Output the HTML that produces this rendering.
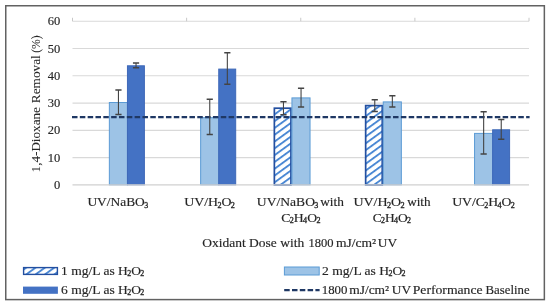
<!DOCTYPE html>
<html><head><meta charset="utf-8"><style>
html,body{margin:0;padding:0;background:#fff;width:550px;height:306px;overflow:hidden}
svg text{font-family:'Liberation Serif',serif;font-size:12.5px;fill:#262626;stroke:#262626;stroke-width:0.15px}
</style></head><body>
<svg width="550" height="306" viewBox="0 0 550 306" style="display:block;filter:blur(0.35px)">
<defs>
<pattern id="hatch" patternUnits="userSpaceOnUse" width="5.5" height="10" patternTransform="rotate(54)">
<rect width="5.5" height="10" fill="#fff"/><rect x="0" y="0" width="1.9" height="10" fill="#4A88D4"/>
</pattern>
</defs>
<rect width="550" height="306" fill="#fff"/>
<line x1="72.5" y1="157.54" x2="529.0" y2="157.54" stroke="#D9D9D9" stroke-width="1.2"/>
<line x1="72.5" y1="130.28" x2="529.0" y2="130.28" stroke="#D9D9D9" stroke-width="1.2"/>
<line x1="72.5" y1="103.03" x2="529.0" y2="103.03" stroke="#D9D9D9" stroke-width="1.2"/>
<line x1="72.5" y1="75.77" x2="529.0" y2="75.77" stroke="#D9D9D9" stroke-width="1.2"/>
<line x1="72.5" y1="48.51" x2="529.0" y2="48.51" stroke="#D9D9D9" stroke-width="1.2"/>
<line x1="72.5" y1="21.25" x2="529.0" y2="21.25" stroke="#D9D9D9" stroke-width="1.2"/>
<line x1="72.50" y1="17.75" x2="72.50" y2="21.25" stroke="#C8C8C8" stroke-width="1"/>
<line x1="186.62" y1="17.75" x2="186.62" y2="21.25" stroke="#C8C8C8" stroke-width="1"/>
<line x1="300.75" y1="17.75" x2="300.75" y2="21.25" stroke="#C8C8C8" stroke-width="1"/>
<line x1="414.88" y1="17.75" x2="414.88" y2="21.25" stroke="#C8C8C8" stroke-width="1"/>
<line x1="529.00" y1="17.75" x2="529.00" y2="21.25" stroke="#C8C8C8" stroke-width="1"/>
<rect x="109.35" y="102.50" width="18.09" height="82.30" fill="#9DC3E6" stroke="#5B9BD5" stroke-width="1"/>
<rect x="127.45" y="65.80" width="16.94" height="119.00" fill="#4472C4" stroke="#3E68B8" stroke-width="1"/>
<rect x="200.65" y="117.70" width="18.09" height="67.10" fill="#9DC3E6" stroke="#5B9BD5" stroke-width="1"/>
<rect x="218.75" y="69.10" width="16.94" height="115.70" fill="#4472C4" stroke="#3E68B8" stroke-width="1"/>
<rect x="274.36" y="108.20" width="16.59" height="76.60" fill="url(#hatch)" stroke="#234FA0" stroke-width="1.7"/>
<rect x="291.95" y="97.90" width="18.09" height="86.90" fill="#9DC3E6" stroke="#5B9BD5" stroke-width="1"/>
<rect x="365.66" y="105.60" width="16.59" height="79.20" fill="url(#hatch)" stroke="#234FA0" stroke-width="1.7"/>
<rect x="383.25" y="101.90" width="18.09" height="82.90" fill="#9DC3E6" stroke="#5B9BD5" stroke-width="1"/>
<rect x="474.55" y="133.40" width="18.09" height="51.40" fill="#9DC3E6" stroke="#5B9BD5" stroke-width="1"/>
<rect x="492.65" y="129.80" width="16.94" height="55.00" fill="#4472C4" stroke="#3E68B8" stroke-width="1"/>
<line x1="72.5" y1="184.8" x2="529.0" y2="184.8" stroke="#D0D0D0" stroke-width="1.3"/>
<line x1="72.0" y1="117.1" x2="529.6" y2="117.1" stroke="#1F3864" stroke-width="2.2" stroke-dasharray="5.5 2.33"/>
<path d="M118.45 90.00V114.50" stroke="#444" stroke-width="1.1" fill="none"/>
<path d="M115.35 90.00H121.55M115.35 114.50H121.55" stroke="#444" stroke-width="1.5" fill="none"/>
<path d="M136.04 62.90V67.70" stroke="#444" stroke-width="1.1" fill="none"/>
<path d="M132.94 62.90H139.14M132.94 67.70H139.14" stroke="#444" stroke-width="1.5" fill="none"/>
<path d="M209.75 99.20V134.40" stroke="#444" stroke-width="1.1" fill="none"/>
<path d="M206.65 99.20H212.85M206.65 134.40H212.85" stroke="#444" stroke-width="1.5" fill="none"/>
<path d="M227.34 52.80V84.30" stroke="#444" stroke-width="1.1" fill="none"/>
<path d="M224.24 52.80H230.44M224.24 84.30H230.44" stroke="#444" stroke-width="1.5" fill="none"/>
<path d="M283.46 101.80V114.70" stroke="#444" stroke-width="1.1" fill="none"/>
<path d="M280.36 101.80H286.56M280.36 114.70H286.56" stroke="#444" stroke-width="1.5" fill="none"/>
<path d="M301.05 88.20V106.90" stroke="#444" stroke-width="1.1" fill="none"/>
<path d="M297.95 88.20H304.15M297.95 106.90H304.15" stroke="#444" stroke-width="1.5" fill="none"/>
<path d="M374.76 99.70V111.60" stroke="#444" stroke-width="1.1" fill="none"/>
<path d="M371.66 99.70H377.86M371.66 111.60H377.86" stroke="#444" stroke-width="1.5" fill="none"/>
<path d="M392.35 95.70V107.00" stroke="#444" stroke-width="1.1" fill="none"/>
<path d="M389.25 95.70H395.45M389.25 107.00H395.45" stroke="#444" stroke-width="1.5" fill="none"/>
<path d="M483.65 111.70V153.90" stroke="#444" stroke-width="1.1" fill="none"/>
<path d="M480.55 111.70H486.75M480.55 153.90H486.75" stroke="#444" stroke-width="1.5" fill="none"/>
<path d="M501.24 119.40V139.20" stroke="#444" stroke-width="1.1" fill="none"/>
<path d="M498.14 119.40H504.34M498.14 139.20H504.34" stroke="#444" stroke-width="1.5" fill="none"/>
<text x="60.3" y="188.90" text-anchor="end">0</text>
<text x="60.3" y="161.64" text-anchor="end">10</text>
<text x="60.3" y="134.38" text-anchor="end">20</text>
<text x="60.3" y="107.12" text-anchor="end">30</text>
<text x="60.3" y="79.87" text-anchor="end">40</text>
<text x="60.3" y="52.61" text-anchor="end">50</text>
<text x="60.3" y="25.35" text-anchor="end">60</text>
<text x="87.40" y="206.30" textLength="60.73" lengthAdjust="spacingAndGlyphs">UV/NaBO<tspan font-size="7.4" dy="1.3" dx="-0.6" style="stroke-width:0.3px">3</tspan></text>
<text x="184.23" y="206.30" textLength="50.71" lengthAdjust="spacingAndGlyphs">UV/H<tspan font-size="7.4" dy="1.3" dx="-0.6" style="stroke-width:0.3px">2</tspan><tspan dy="-1.3">O</tspan><tspan font-size="7.4" dy="1.3" dx="-0.6" style="stroke-width:0.3px">2</tspan></text>
<text x="256.82" y="206.30" textLength="61.51" lengthAdjust="spacingAndGlyphs">UV/NaBO<tspan font-size="7.4" dy="1.3" dx="-0.6" style="stroke-width:0.3px">3</tspan></text>
<text x="320.20" y="206.30" textLength="23.72" lengthAdjust="spacingAndGlyphs">with</text>
<text x="281.34" y="222.00" textLength="39.12" lengthAdjust="spacingAndGlyphs">C<tspan font-size="7.4" dy="1.3" dx="-0.6" style="stroke-width:0.3px">2</tspan><tspan dy="-1.3">H</tspan><tspan font-size="7.4" dy="1.3" dx="-0.6" style="stroke-width:0.3px">4</tspan><tspan dy="-1.3">O</tspan><tspan font-size="7.4" dy="1.3" dx="-0.6" style="stroke-width:0.3px">2</tspan></text>
<text x="353.43" y="206.30" textLength="51.24" lengthAdjust="spacingAndGlyphs">UV/H<tspan font-size="7.4" dy="1.3" dx="-0.6" style="stroke-width:0.3px">2</tspan><tspan dy="-1.3">O</tspan><tspan font-size="7.4" dy="1.3" dx="-0.6" style="stroke-width:0.3px">2</tspan></text>
<text x="407.24" y="206.30" textLength="23.36" lengthAdjust="spacingAndGlyphs">with</text>
<text x="372.67" y="222.00" textLength="38.41" lengthAdjust="spacingAndGlyphs">C<tspan font-size="7.4" dy="1.3" dx="-0.6" style="stroke-width:0.3px">2</tspan><tspan dy="-1.3">H</tspan><tspan font-size="7.4" dy="1.3" dx="-0.6" style="stroke-width:0.3px">4</tspan><tspan dy="-1.3">O</tspan><tspan font-size="7.4" dy="1.3" dx="-0.6" style="stroke-width:0.3px">2</tspan></text>
<text x="452.16" y="206.30" textLength="62.60" lengthAdjust="spacingAndGlyphs">UV/C<tspan font-size="7.4" dy="1.3" dx="-0.6" style="stroke-width:0.3px">2</tspan><tspan dy="-1.3">H</tspan><tspan font-size="7.4" dy="1.3" dx="-0.6" style="stroke-width:0.3px">4</tspan><tspan dy="-1.3">O</tspan><tspan font-size="7.4" dy="1.3" dx="-0.6" style="stroke-width:0.3px">2</tspan></text>
<text x="202.16" y="247.20" textLength="102.00" lengthAdjust="spacingAndGlyphs">Oxidant Dose with</text>
<text x="308.42" y="247.20" textLength="25.04" lengthAdjust="spacingAndGlyphs">1800</text>
<text x="335.96" y="247.20" textLength="40.23" lengthAdjust="spacingAndGlyphs">mJ/cm²</text>
<text x="377.88" y="247.20" textLength="19.32" lengthAdjust="spacingAndGlyphs">UV</text>
<text x="61.12" y="275.00" textLength="83.17" lengthAdjust="spacingAndGlyphs">1 mg/L as H<tspan font-size="7.4" dy="1.3" dx="-0.6" style="stroke-width:0.3px">2</tspan><tspan dy="-1.3">O</tspan><tspan font-size="7.4" dy="1.3" dx="-0.6" style="stroke-width:0.3px">2</tspan></text>
<text x="61.14" y="293.60" textLength="83.15" lengthAdjust="spacingAndGlyphs">6 mg/L as H<tspan font-size="7.4" dy="1.3" dx="-0.6" style="stroke-width:0.3px">2</tspan><tspan dy="-1.3">O</tspan><tspan font-size="7.4" dy="1.3" dx="-0.6" style="stroke-width:0.3px">2</tspan></text>
<text x="322.14" y="274.90" textLength="83.44" lengthAdjust="spacingAndGlyphs">2 mg/L as H<tspan font-size="7.4" dy="1.3" dx="-0.6" style="stroke-width:0.3px">2</tspan><tspan dy="-1.3">O</tspan><tspan font-size="7.4" dy="1.3" dx="-0.6" style="stroke-width:0.3px">2</tspan></text>
<text x="321.74" y="293.50" textLength="25.64" lengthAdjust="spacingAndGlyphs">1800</text>
<text x="349.18" y="293.50" textLength="39.96" lengthAdjust="spacingAndGlyphs">mJ/cm²</text>
<text x="391.88" y="293.50" textLength="19.32" lengthAdjust="spacingAndGlyphs">UV</text>
<text x="412.74" y="293.50" textLength="69.84" lengthAdjust="spacingAndGlyphs">Performance</text>
<text x="485.53" y="293.50" textLength="44.09" lengthAdjust="spacingAndGlyphs">Baseline</text>
<text transform="translate(40.00 172.38) rotate(-90)" x="0" y="0" style="stroke-width:0.04px" textLength="65.22" lengthAdjust="spacingAndGlyphs">1,4-Dioxane</text>
<text transform="translate(40.00 103.16) rotate(-90)" x="0" y="0" style="stroke-width:0.04px" textLength="47.96" lengthAdjust="spacingAndGlyphs">Removal</text>
<text transform="translate(40.40 52.84) rotate(-90)" x="0" y="0" style="stroke-width:0.04px" textLength="17.54" lengthAdjust="spacingAndGlyphs">(%)</text>
<rect x="23.6" y="267.6" width="33.8" height="6.8" fill="url(#hatch)" stroke="#234FA0" stroke-width="1.4"/>
<rect x="23" y="286.6" width="34.9" height="7.2" fill="#4472C4"/>
<rect x="284.4" y="267.0" width="34.8" height="8.0" fill="#9DC3E6" stroke="#5B9BD5" stroke-width="1"/>
<line x1="284.2" y1="290.2" x2="319.6" y2="290.2" stroke="#1F3864" stroke-width="2.2" stroke-dasharray="5.5 2.3"/>
<rect x="5.75" y="5.75" width="538.6" height="293.85" fill="none" stroke="#626262" stroke-width="1.5"/>
</svg>
</body></html>
